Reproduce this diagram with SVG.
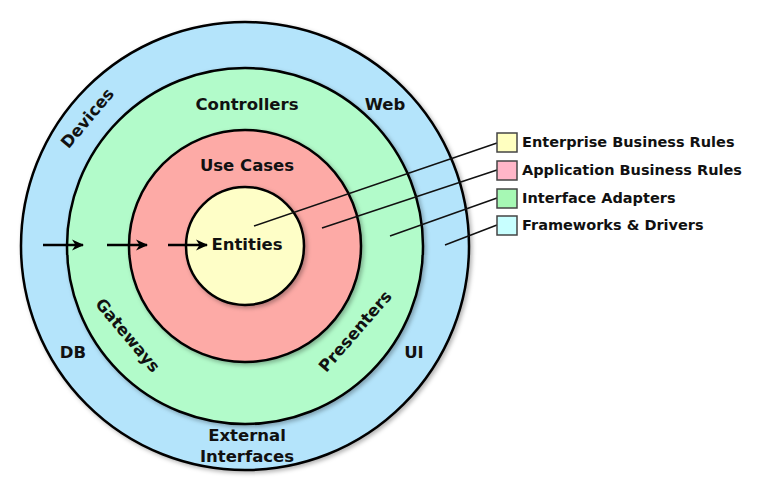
<svg xmlns="http://www.w3.org/2000/svg" width="768" height="491" viewBox="0 0 768 491">
<style>
.ring{stroke:#000;stroke-width:2.5}
.lbl{font-family:"DejaVu Sans",sans-serif;font-weight:bold;font-size:16.5px;fill:#111;text-anchor:middle}
.leg{font-family:"DejaVu Sans",sans-serif;font-weight:bold;font-size:14.5px;fill:#111}
.box{stroke:#444;stroke-width:1.5}
.lead{stroke:#111;stroke-width:1.5;fill:none}
.arr{stroke:#000;stroke-width:2.5;fill:none;marker-end:url(#ah)}
</style>
<defs>
<filter id="sh" x="-10%" y="-10%" width="130%" height="130%">
<feDropShadow dx="2" dy="2" stdDeviation="2" flood-color="#000" flood-opacity="0.3"/>
</filter>
<marker id="ah" markerWidth="14" markerHeight="12" refX="11" refY="6" orient="auto" markerUnits="userSpaceOnUse">
<path d="M0,0.5 L12,6 L0,11.5 L3.5,6 Z" fill="#000"/>
</marker>
</defs>
<rect width="768" height="491" fill="#fff"/>
<g id="frameworks" filter="url(#sh)"><circle class="ring" cx="245" cy="246" r="224" fill="#b4e4fb"/></g>
<g id="adapters" filter="url(#sh)"><circle class="ring" cx="245" cy="246" r="178" fill="#b2fbca"/></g>
<g id="usecases" filter="url(#sh)"><circle class="ring" cx="245" cy="246" r="116" fill="#fdaaa6"/></g>
<g id="entities" filter="url(#sh)"><circle class="ring" cx="245" cy="246" r="59" fill="#fefec7"/></g>
<g id="labels">
<text class="lbl" x="247" y="110">Controllers</text>
<text class="lbl" x="385" y="110">Web</text>
<text class="lbl" x="247" y="171">Use Cases</text>
<text class="lbl" x="247" y="250">Entities</text>
<text class="lbl" x="73" y="358">DB</text>
<text class="lbl" x="414" y="358">UI</text>
<text class="lbl" x="247" y="441">External</text>
<text class="lbl" x="247" y="462">Interfaces</text>
<text class="lbl" transform="translate(87,118) rotate(-50)" y="6">Devices</text>
<text class="lbl" transform="translate(128,335) rotate(50)" y="6">Gateways</text>
<text class="lbl" transform="translate(355,331) rotate(-49)" y="6">Presenters</text>
</g>
<g id="connectors">
<line class="arr" x1="43" y1="245" x2="83" y2="245"/>
<line class="arr" x1="107" y1="245" x2="147" y2="245"/>
<line class="arr" x1="168" y1="245" x2="207" y2="245"/>
<line class="lead" x1="497" y1="143" x2="254" y2="226"/>
<line class="lead" x1="497" y1="170" x2="322" y2="228"/>
<line class="lead" x1="497" y1="198" x2="390" y2="236"/>
<line class="lead" x1="497" y1="225" x2="445" y2="245"/>
</g>
<g id="legend">
<g id="leg-enterprise"><rect class="box" x="497" y="133" width="20" height="19" fill="#ffffc0"/><text class="leg" x="522" y="147">Enterprise Business Rules</text></g>
<g id="leg-application"><rect class="box" x="497" y="161" width="20" height="19" fill="#ffb6c8"/><text class="leg" x="522" y="175">Application Business Rules</text></g>
<g id="leg-adapters"><rect class="box" x="497" y="189" width="20" height="19" fill="#a6f8b4"/><text class="leg" x="522" y="203">Interface Adapters</text></g>
<g id="leg-frameworks"><rect class="box" x="497" y="216" width="20" height="19" fill="#c8ffff"/><text class="leg" x="522" y="230">Frameworks &amp; Drivers</text></g>
</g>
</svg>
